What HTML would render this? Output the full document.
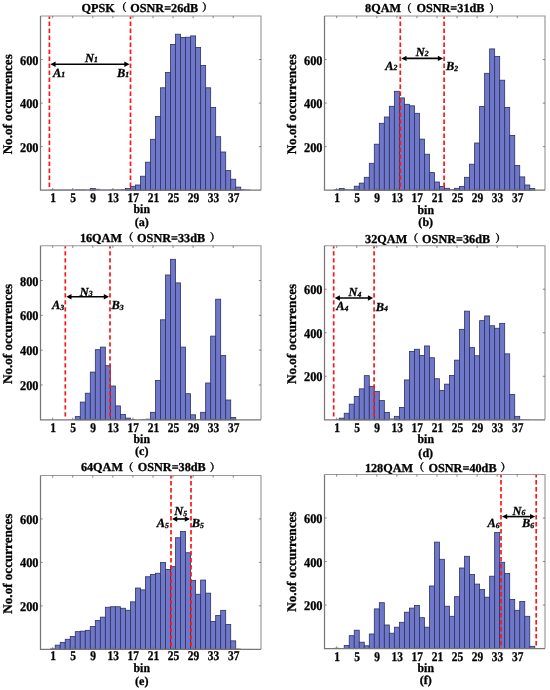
<!DOCTYPE html>
<html lang="en"><head><meta charset="utf-8"><title>Histograms of modulation formats</title>
<style>
html,body{margin:0;padding:0;background:#fff;}
body{width:550px;height:690px;overflow:hidden;}
svg{display:block;}
text{font-family:"Liberation Serif","Noto Serif CJK SC",serif;font-weight:bold;fill:#000;stroke:#000;stroke-width:0.3px;text-rendering:geometricPrecision;}
.t{font-size:12.1px;}
.k{font-size:13.3px;}
.y{font-size:13.3px;}
.b{font-size:12.8px;}
.c{font-size:12.1px;}
.l{font-size:13.1px;}
.p{font-family:"Liberation Serif","Noto Serif CJK SC",serif;font-weight:bold;font-size:10.5px;}
.i{font-style:italic;font-size:12.4px;}
.s{font-style:italic;font-size:7.8px;}
</style></head><body>
<svg width="550" height="690" viewBox="0 0 550 690">
<rect width="550" height="690" fill="#fff"/>
<g>
<rect x="50.18" y="189.5" width="5.01" height="0.7" fill="#4a4f96" opacity="0.75"/>
<rect x="55.2" y="189.5" width="5.01" height="0.7" fill="#4a4f96" opacity="0.75"/>
<rect x="60.21" y="189.5" width="5.01" height="0.7" fill="#4a4f96" opacity="0.75"/>
<rect x="65.23" y="189.5" width="5.01" height="0.7" fill="#4a4f96" opacity="0.75"/>
<rect x="70.24" y="189.5" width="5.01" height="0.7" fill="#4a4f96" opacity="0.75"/>
<rect x="75.26" y="189.2" width="5.01" height="1" fill="#4a4f96" opacity="0.75"/>
<rect x="80.27" y="189.2" width="5.01" height="1" fill="#4a4f96" opacity="0.75"/>
<rect x="85.29" y="189.5" width="5.01" height="0.7" fill="#4a4f96" opacity="0.75"/>
<rect x="90.3" y="188.5" width="5.01" height="1.7" fill="#6f78c8" stroke="#2c3163" stroke-width="0.8"/>
<rect x="95.32" y="188.8" width="5.01" height="1.4" fill="#4a4f96" opacity="0.75"/>
<rect x="100.33" y="189.5" width="5.01" height="0.7" fill="#4a4f96" opacity="0.75"/>
<rect x="105.35" y="189.5" width="5.01" height="0.7" fill="#4a4f96" opacity="0.75"/>
<rect x="110.36" y="189.2" width="5.01" height="1" fill="#4a4f96" opacity="0.75"/>
<rect x="115.38" y="189.2" width="5.01" height="1" fill="#4a4f96" opacity="0.75"/>
<rect x="120.39" y="189" width="5.01" height="1.2" fill="#4a4f96" opacity="0.75"/>
<rect x="125.41" y="188.5" width="5.01" height="1.7" fill="#6f78c8" stroke="#2c3163" stroke-width="0.8"/>
<rect x="130.42" y="186.3" width="5.01" height="3.9" fill="#6f78c8" stroke="#2c3163" stroke-width="0.8"/>
<rect x="135.44" y="185" width="5.01" height="5.2" fill="#6f78c8" stroke="#2c3163" stroke-width="0.8"/>
<rect x="140.45" y="176.2" width="5.01" height="14" fill="#6f78c8" stroke="#2c3163" stroke-width="0.8"/>
<rect x="145.47" y="162.2" width="5.01" height="28" fill="#6f78c8" stroke="#2c3163" stroke-width="0.8"/>
<rect x="150.48" y="139.3" width="5.01" height="50.9" fill="#6f78c8" stroke="#2c3163" stroke-width="0.8"/>
<rect x="155.5" y="116.4" width="5.01" height="73.8" fill="#6f78c8" stroke="#2c3163" stroke-width="0.8"/>
<rect x="160.51" y="87.8" width="5.01" height="102.4" fill="#6f78c8" stroke="#2c3163" stroke-width="0.8"/>
<rect x="165.53" y="72.5" width="5.01" height="117.7" fill="#6f78c8" stroke="#2c3163" stroke-width="0.8"/>
<rect x="170.54" y="44.4" width="5.01" height="145.8" fill="#6f78c8" stroke="#2c3163" stroke-width="0.8"/>
<rect x="175.56" y="34.2" width="5.01" height="156" fill="#6f78c8" stroke="#2c3163" stroke-width="0.8"/>
<rect x="180.57" y="37.5" width="5.01" height="152.7" fill="#6f78c8" stroke="#2c3163" stroke-width="0.8"/>
<rect x="185.59" y="37.2" width="5.01" height="153" fill="#6f78c8" stroke="#2c3163" stroke-width="0.8"/>
<rect x="190.6" y="35.9" width="5.01" height="154.3" fill="#6f78c8" stroke="#2c3163" stroke-width="0.8"/>
<rect x="195.62" y="47.5" width="5.01" height="142.7" fill="#6f78c8" stroke="#2c3163" stroke-width="0.8"/>
<rect x="200.63" y="65.4" width="5.01" height="124.8" fill="#6f78c8" stroke="#2c3163" stroke-width="0.8"/>
<rect x="205.65" y="87.8" width="5.01" height="102.4" fill="#6f78c8" stroke="#2c3163" stroke-width="0.8"/>
<rect x="210.66" y="107.4" width="5.01" height="82.8" fill="#6f78c8" stroke="#2c3163" stroke-width="0.8"/>
<rect x="215.68" y="136.7" width="5.01" height="53.5" fill="#6f78c8" stroke="#2c3163" stroke-width="0.8"/>
<rect x="220.69" y="152" width="5.01" height="38.2" fill="#6f78c8" stroke="#2c3163" stroke-width="0.8"/>
<rect x="225.71" y="170.6" width="5.01" height="19.6" fill="#6f78c8" stroke="#2c3163" stroke-width="0.8"/>
<rect x="230.72" y="179.2" width="5.01" height="11" fill="#6f78c8" stroke="#2c3163" stroke-width="0.8"/>
<rect x="235.74" y="187.1" width="5.01" height="3.1" fill="#6f78c8" stroke="#2c3163" stroke-width="0.8"/>
<rect x="240.75" y="189" width="5.01" height="1.2" fill="#4a4f96" opacity="0.75"/>
<rect x="245.77" y="189.5" width="5.01" height="0.7" fill="#4a4f96" opacity="0.75"/>
<path d="M40.5 16H261V190.2" fill="none" stroke="#989898" stroke-width="1.15"/>
<path d="M40.5 16V190.2H261" fill="none" stroke="#777777" stroke-width="1.25"/>
<path d="M52.69 190.2v-2.2M52.69 16v2.2M72.75 190.2v-2.2M72.75 16v2.2M92.81 190.2v-2.2M92.81 16v2.2M112.87 190.2v-2.2M112.87 16v2.2M132.93 190.2v-2.2M132.93 16v2.2M152.99 190.2v-2.2M152.99 16v2.2M173.05 190.2v-2.2M173.05 16v2.2M193.11 190.2v-2.2M193.11 16v2.2M213.17 190.2v-2.2M213.17 16v2.2M233.23 190.2v-2.2M233.23 16v2.2M40.5 146.65h2.2M261 146.65h-2.2M40.5 103.1h2.2M261 103.1h-2.2M40.5 59.55h2.2M261 59.55h-2.2" stroke="#6a6a6a" stroke-width="0.8" fill="none"/>
<text class="k" transform="translate(53.09 201.8) scale(0.86 1)" text-anchor="middle">1</text>
<text class="k" transform="translate(73.15 201.8) scale(0.86 1)" text-anchor="middle">5</text>
<text class="k" transform="translate(93.21 201.8) scale(0.86 1)" text-anchor="middle">9</text>
<text class="k" transform="translate(113.27 201.8) scale(0.86 1)" text-anchor="middle">13</text>
<text class="k" transform="translate(133.33 201.8) scale(0.86 1)" text-anchor="middle">17</text>
<text class="k" transform="translate(153.39 201.8) scale(0.86 1)" text-anchor="middle">21</text>
<text class="k" transform="translate(173.45 201.8) scale(0.86 1)" text-anchor="middle">25</text>
<text class="k" transform="translate(193.51 201.8) scale(0.86 1)" text-anchor="middle">29</text>
<text class="k" transform="translate(213.57 201.8) scale(0.86 1)" text-anchor="middle">33</text>
<text class="k" transform="translate(233.63 201.8) scale(0.86 1)" text-anchor="middle">37</text>
<text class="y" transform="translate(38.5 151.7) scale(0.93 1)" text-anchor="end">200</text>
<text class="y" transform="translate(38.5 108.15) scale(0.93 1)" text-anchor="end">400</text>
<text class="y" transform="translate(38.5 64.6) scale(0.93 1)" text-anchor="end">600</text>
<text class="b" transform="translate(141.75 213.1) scale(0.92 1)" text-anchor="middle">bin</text>
<text class="c" transform="translate(141.75 225.8) scale(1 1)" text-anchor="middle">(a)</text>
<text class="l" transform="translate(12.4 104.3) rotate(-90)" text-anchor="middle">No.of occurrences</text>
<text class="t" transform="translate(81.6 11.9) scale(1.01 1)">QPSK</text>
<text class="p" x="121.4" y="11.3" text-anchor="middle">（</text>
<text class="t" transform="translate(130.2 11.9) scale(1.01 1)">OSNR=26dB</text>
<text class="p" x="207.3" y="11.3" text-anchor="middle">）</text>
<path d="M49.4 16.5V189.7" stroke="#fa1818" stroke-width="1.7" stroke-dasharray="4.4 2.6" stroke-dashoffset="2" fill="none"/>
<path d="M130.5 16.5V189.7" stroke="#fa1818" stroke-width="1.7" stroke-dasharray="4.4 2.6" stroke-dashoffset="2" fill="none"/>
<path d="M53.4 64.3H126.5" stroke="#000" stroke-width="1.6" fill="none"/>
<path d="M50.4 64.3l5.2 -2.7v5.4zM129.5 64.3l-5.2 -2.7v5.4z" fill="#000"/>
<text class="i" x="53" y="76.5">A<tspan class="s" dy="0.5">1</tspan></text>
<text class="i" x="116.9" y="76.5">B<tspan class="s" dy="0.5">1</tspan></text>
<text class="i" x="85" y="61.7">N<tspan class="s" dy="0.5">1</tspan></text>
</g>
<g>
<rect x="334.18" y="189" width="5.01" height="1.2" fill="#4a4f96" opacity="0.75"/>
<rect x="339.2" y="188.5" width="5.01" height="1.7" fill="#6f78c8" stroke="#2c3163" stroke-width="0.8"/>
<rect x="344.21" y="189" width="5.01" height="1.2" fill="#4a4f96" opacity="0.75"/>
<rect x="349.23" y="189" width="5.01" height="1.2" fill="#4a4f96" opacity="0.75"/>
<rect x="354.24" y="186.2" width="5.01" height="4" fill="#6f78c8" stroke="#2c3163" stroke-width="0.8"/>
<rect x="359.26" y="183.1" width="5.01" height="7.1" fill="#6f78c8" stroke="#2c3163" stroke-width="0.8"/>
<rect x="364.27" y="177.3" width="5.01" height="12.9" fill="#6f78c8" stroke="#2c3163" stroke-width="0.8"/>
<rect x="369.29" y="163.3" width="5.01" height="26.9" fill="#6f78c8" stroke="#2c3163" stroke-width="0.8"/>
<rect x="374.3" y="144.2" width="5.01" height="46" fill="#6f78c8" stroke="#2c3163" stroke-width="0.8"/>
<rect x="379.32" y="123.3" width="5.01" height="66.9" fill="#6f78c8" stroke="#2c3163" stroke-width="0.8"/>
<rect x="384.33" y="117" width="5.01" height="73.2" fill="#6f78c8" stroke="#2c3163" stroke-width="0.8"/>
<rect x="389.35" y="106.3" width="5.01" height="83.9" fill="#6f78c8" stroke="#2c3163" stroke-width="0.8"/>
<rect x="394.36" y="91.3" width="5.01" height="98.9" fill="#6f78c8" stroke="#2c3163" stroke-width="0.8"/>
<rect x="399.38" y="97.9" width="5.01" height="92.3" fill="#6f78c8" stroke="#2c3163" stroke-width="0.8"/>
<rect x="404.39" y="104.3" width="5.01" height="85.9" fill="#6f78c8" stroke="#2c3163" stroke-width="0.8"/>
<rect x="409.41" y="105.8" width="5.01" height="84.4" fill="#6f78c8" stroke="#2c3163" stroke-width="0.8"/>
<rect x="414.42" y="113.3" width="5.01" height="76.9" fill="#6f78c8" stroke="#2c3163" stroke-width="0.8"/>
<rect x="419.44" y="139.1" width="5.01" height="51.1" fill="#6f78c8" stroke="#2c3163" stroke-width="0.8"/>
<rect x="424.45" y="154.2" width="5.01" height="36" fill="#6f78c8" stroke="#2c3163" stroke-width="0.8"/>
<rect x="429.47" y="172.6" width="5.01" height="17.6" fill="#6f78c8" stroke="#2c3163" stroke-width="0.8"/>
<rect x="434.48" y="182" width="5.01" height="8.2" fill="#6f78c8" stroke="#2c3163" stroke-width="0.8"/>
<rect x="439.5" y="186.4" width="5.01" height="3.8" fill="#6f78c8" stroke="#2c3163" stroke-width="0.8"/>
<rect x="444.51" y="188.3" width="5.01" height="1.9" fill="#6f78c8" stroke="#2c3163" stroke-width="0.8"/>
<rect x="449.53" y="189" width="5.01" height="1.2" fill="#4a4f96" opacity="0.75"/>
<rect x="454.54" y="188.3" width="5.01" height="1.9" fill="#6f78c8" stroke="#2c3163" stroke-width="0.8"/>
<rect x="459.56" y="186.4" width="5.01" height="3.8" fill="#6f78c8" stroke="#2c3163" stroke-width="0.8"/>
<rect x="464.57" y="177.3" width="5.01" height="12.9" fill="#6f78c8" stroke="#2c3163" stroke-width="0.8"/>
<rect x="469.59" y="164.2" width="5.01" height="26" fill="#6f78c8" stroke="#2c3163" stroke-width="0.8"/>
<rect x="474.6" y="143" width="5.01" height="47.2" fill="#6f78c8" stroke="#2c3163" stroke-width="0.8"/>
<rect x="479.62" y="106.4" width="5.01" height="83.8" fill="#6f78c8" stroke="#2c3163" stroke-width="0.8"/>
<rect x="484.63" y="73.3" width="5.01" height="116.9" fill="#6f78c8" stroke="#2c3163" stroke-width="0.8"/>
<rect x="489.65" y="48.9" width="5.01" height="141.3" fill="#6f78c8" stroke="#2c3163" stroke-width="0.8"/>
<rect x="494.66" y="56.5" width="5.01" height="133.7" fill="#6f78c8" stroke="#2c3163" stroke-width="0.8"/>
<rect x="499.68" y="80.2" width="5.01" height="110" fill="#6f78c8" stroke="#2c3163" stroke-width="0.8"/>
<rect x="504.69" y="107.4" width="5.01" height="82.8" fill="#6f78c8" stroke="#2c3163" stroke-width="0.8"/>
<rect x="509.71" y="135.4" width="5.01" height="54.8" fill="#6f78c8" stroke="#2c3163" stroke-width="0.8"/>
<rect x="514.72" y="165.5" width="5.01" height="24.7" fill="#6f78c8" stroke="#2c3163" stroke-width="0.8"/>
<rect x="519.74" y="176.9" width="5.01" height="13.3" fill="#6f78c8" stroke="#2c3163" stroke-width="0.8"/>
<rect x="524.75" y="185" width="5.01" height="5.2" fill="#6f78c8" stroke="#2c3163" stroke-width="0.8"/>
<rect x="529.77" y="188.4" width="5.01" height="1.8" fill="#6f78c8" stroke="#2c3163" stroke-width="0.8"/>
<path d="M324.5 16H545V190.2" fill="none" stroke="#989898" stroke-width="1.15"/>
<path d="M324.5 16V190.2H545" fill="none" stroke="#777777" stroke-width="1.25"/>
<path d="M336.69 190.2v-2.2M336.69 16v2.2M356.75 190.2v-2.2M356.75 16v2.2M376.81 190.2v-2.2M376.81 16v2.2M396.87 190.2v-2.2M396.87 16v2.2M416.93 190.2v-2.2M416.93 16v2.2M436.99 190.2v-2.2M436.99 16v2.2M457.05 190.2v-2.2M457.05 16v2.2M477.11 190.2v-2.2M477.11 16v2.2M497.17 190.2v-2.2M497.17 16v2.2M517.23 190.2v-2.2M517.23 16v2.2M324.5 146.65h2.2M545 146.65h-2.2M324.5 103.1h2.2M545 103.1h-2.2M324.5 59.55h2.2M545 59.55h-2.2" stroke="#6a6a6a" stroke-width="0.8" fill="none"/>
<text class="k" transform="translate(337.09 202) scale(0.86 1)" text-anchor="middle">1</text>
<text class="k" transform="translate(357.15 202) scale(0.86 1)" text-anchor="middle">5</text>
<text class="k" transform="translate(377.21 202) scale(0.86 1)" text-anchor="middle">9</text>
<text class="k" transform="translate(397.27 202) scale(0.86 1)" text-anchor="middle">13</text>
<text class="k" transform="translate(417.33 202) scale(0.86 1)" text-anchor="middle">17</text>
<text class="k" transform="translate(437.39 202) scale(0.86 1)" text-anchor="middle">21</text>
<text class="k" transform="translate(457.45 202) scale(0.86 1)" text-anchor="middle">25</text>
<text class="k" transform="translate(477.51 202) scale(0.86 1)" text-anchor="middle">29</text>
<text class="k" transform="translate(497.57 202) scale(0.86 1)" text-anchor="middle">33</text>
<text class="k" transform="translate(517.63 202) scale(0.86 1)" text-anchor="middle">37</text>
<text class="y" transform="translate(322.5 151.7) scale(0.93 1)" text-anchor="end">200</text>
<text class="y" transform="translate(322.5 108.15) scale(0.93 1)" text-anchor="end">400</text>
<text class="y" transform="translate(322.5 64.6) scale(0.93 1)" text-anchor="end">600</text>
<text class="b" transform="translate(425.75 213.7) scale(0.92 1)" text-anchor="middle">bin</text>
<text class="c" transform="translate(425.75 226.3) scale(1 1)" text-anchor="middle">(b)</text>
<text class="l" transform="translate(296.4 104.3) rotate(-90)" text-anchor="middle">No.of occurrences</text>
<text class="t" transform="translate(365.1 12.4) scale(1.01 1)">8QAM</text>
<text class="p" x="406.4" y="11.8" text-anchor="middle">（</text>
<text class="t" transform="translate(416.4 12.4) scale(1.01 1)">OSNR=31dB</text>
<text class="p" x="494.6" y="11.8" text-anchor="middle">）</text>
<path d="M400.3 16.5V189.7" stroke="#fa1818" stroke-width="1.7" stroke-dasharray="4.4 2.6" stroke-dashoffset="2" fill="none"/>
<path d="M444.1 16.5V189.7" stroke="#fa1818" stroke-width="1.7" stroke-dasharray="4.4 2.6" stroke-dashoffset="2" fill="none"/>
<path d="M404.3 58.4H440.1" stroke="#000" stroke-width="1.6" fill="none"/>
<path d="M401.3 58.4l5.2 -2.7v5.4zM443.1 58.4l-5.2 -2.7v5.4z" fill="#000"/>
<text class="i" x="385.3" y="69.8">A<tspan class="s" dy="0.5">2</tspan></text>
<text class="i" x="446" y="70.1">B<tspan class="s" dy="0.5">2</tspan></text>
<text class="i" x="415.8" y="55.8">N<tspan class="s" dy="0.5">2</tspan></text>
</g>
<g>
<rect x="70.24" y="419.4" width="5.01" height="0.4" fill="#4a4f96" opacity="0.75"/>
<rect x="75.26" y="416.6" width="5.01" height="3.2" fill="#6f78c8" stroke="#2c3163" stroke-width="0.8"/>
<rect x="80.27" y="402.1" width="5.01" height="17.7" fill="#6f78c8" stroke="#2c3163" stroke-width="0.8"/>
<rect x="85.29" y="393.2" width="5.01" height="26.6" fill="#6f78c8" stroke="#2c3163" stroke-width="0.8"/>
<rect x="90.3" y="372.1" width="5.01" height="47.7" fill="#6f78c8" stroke="#2c3163" stroke-width="0.8"/>
<rect x="95.32" y="349.7" width="5.01" height="70.1" fill="#6f78c8" stroke="#2c3163" stroke-width="0.8"/>
<rect x="100.33" y="347.1" width="5.01" height="72.7" fill="#6f78c8" stroke="#2c3163" stroke-width="0.8"/>
<rect x="105.35" y="365.7" width="5.01" height="54.1" fill="#6f78c8" stroke="#2c3163" stroke-width="0.8"/>
<rect x="110.36" y="386" width="5.01" height="33.8" fill="#6f78c8" stroke="#2c3163" stroke-width="0.8"/>
<rect x="115.38" y="405.9" width="5.01" height="13.9" fill="#6f78c8" stroke="#2c3163" stroke-width="0.8"/>
<rect x="120.39" y="414.5" width="5.01" height="5.3" fill="#6f78c8" stroke="#2c3163" stroke-width="0.8"/>
<rect x="125.41" y="418.1" width="5.01" height="1.7" fill="#6f78c8" stroke="#2c3163" stroke-width="0.8"/>
<rect x="130.42" y="419.1" width="5.01" height="0.7" fill="#4a4f96" opacity="0.75"/>
<rect x="140.45" y="419.1" width="5.01" height="0.7" fill="#4a4f96" opacity="0.75"/>
<rect x="145.47" y="418.6" width="5.01" height="1.2" fill="#4a4f96" opacity="0.75"/>
<rect x="150.48" y="412.3" width="5.01" height="7.5" fill="#6f78c8" stroke="#2c3163" stroke-width="0.8"/>
<rect x="155.5" y="380.4" width="5.01" height="39.4" fill="#6f78c8" stroke="#2c3163" stroke-width="0.8"/>
<rect x="160.51" y="319.8" width="5.01" height="100" fill="#6f78c8" stroke="#2c3163" stroke-width="0.8"/>
<rect x="165.53" y="275" width="5.01" height="144.8" fill="#6f78c8" stroke="#2c3163" stroke-width="0.8"/>
<rect x="170.54" y="259.3" width="5.01" height="160.5" fill="#6f78c8" stroke="#2c3163" stroke-width="0.8"/>
<rect x="175.56" y="282.9" width="5.01" height="136.9" fill="#6f78c8" stroke="#2c3163" stroke-width="0.8"/>
<rect x="180.57" y="347.1" width="5.01" height="72.7" fill="#6f78c8" stroke="#2c3163" stroke-width="0.8"/>
<rect x="185.59" y="393.7" width="5.01" height="26.1" fill="#6f78c8" stroke="#2c3163" stroke-width="0.8"/>
<rect x="190.6" y="414.8" width="5.01" height="5" fill="#6f78c8" stroke="#2c3163" stroke-width="0.8"/>
<rect x="195.62" y="419.1" width="5.01" height="0.7" fill="#4a4f96" opacity="0.75"/>
<rect x="200.63" y="412.3" width="5.01" height="7.5" fill="#6f78c8" stroke="#2c3163" stroke-width="0.8"/>
<rect x="205.65" y="383" width="5.01" height="36.8" fill="#6f78c8" stroke="#2c3163" stroke-width="0.8"/>
<rect x="210.66" y="336.1" width="5.01" height="83.7" fill="#6f78c8" stroke="#2c3163" stroke-width="0.8"/>
<rect x="215.68" y="299.2" width="5.01" height="120.6" fill="#6f78c8" stroke="#2c3163" stroke-width="0.8"/>
<rect x="220.69" y="355.5" width="5.01" height="64.3" fill="#6f78c8" stroke="#2c3163" stroke-width="0.8"/>
<rect x="225.71" y="400" width="5.01" height="19.8" fill="#6f78c8" stroke="#2c3163" stroke-width="0.8"/>
<rect x="230.72" y="417.4" width="5.01" height="2.4" fill="#6f78c8" stroke="#2c3163" stroke-width="0.8"/>
<path d="M40.5 245.7H261V419.8" fill="none" stroke="#989898" stroke-width="1.15"/>
<path d="M40.5 245.7V419.8H261" fill="none" stroke="#777777" stroke-width="1.25"/>
<path d="M52.69 419.8v-2.2M52.69 245.7v2.2M72.75 419.8v-2.2M72.75 245.7v2.2M92.81 419.8v-2.2M92.81 245.7v2.2M112.87 419.8v-2.2M112.87 245.7v2.2M132.93 419.8v-2.2M132.93 245.7v2.2M152.99 419.8v-2.2M152.99 245.7v2.2M173.05 419.8v-2.2M173.05 245.7v2.2M193.11 419.8v-2.2M193.11 245.7v2.2M213.17 419.8v-2.2M213.17 245.7v2.2M233.23 419.8v-2.2M233.23 245.7v2.2M40.5 384.98h2.2M261 384.98h-2.2M40.5 350.16h2.2M261 350.16h-2.2M40.5 315.34h2.2M261 315.34h-2.2M40.5 280.52h2.2M261 280.52h-2.2" stroke="#6a6a6a" stroke-width="0.8" fill="none"/>
<text class="k" transform="translate(53.09 431.8) scale(0.86 1)" text-anchor="middle">1</text>
<text class="k" transform="translate(73.15 431.8) scale(0.86 1)" text-anchor="middle">5</text>
<text class="k" transform="translate(93.21 431.8) scale(0.86 1)" text-anchor="middle">9</text>
<text class="k" transform="translate(113.27 431.8) scale(0.86 1)" text-anchor="middle">13</text>
<text class="k" transform="translate(133.33 431.8) scale(0.86 1)" text-anchor="middle">17</text>
<text class="k" transform="translate(153.39 431.8) scale(0.86 1)" text-anchor="middle">21</text>
<text class="k" transform="translate(173.45 431.8) scale(0.86 1)" text-anchor="middle">25</text>
<text class="k" transform="translate(193.51 431.8) scale(0.86 1)" text-anchor="middle">29</text>
<text class="k" transform="translate(213.57 431.8) scale(0.86 1)" text-anchor="middle">33</text>
<text class="k" transform="translate(233.63 431.8) scale(0.86 1)" text-anchor="middle">37</text>
<text class="y" transform="translate(38.5 390.03) scale(0.93 1)" text-anchor="end">200</text>
<text class="y" transform="translate(38.5 355.21) scale(0.93 1)" text-anchor="end">400</text>
<text class="y" transform="translate(38.5 320.39) scale(0.93 1)" text-anchor="end">600</text>
<text class="y" transform="translate(38.5 285.57) scale(0.93 1)" text-anchor="end">800</text>
<text class="b" transform="translate(141.75 442.7) scale(0.92 1)" text-anchor="middle">bin</text>
<text class="c" transform="translate(141.75 455.4) scale(1 1)" text-anchor="middle">(c)</text>
<text class="l" transform="translate(12.4 333.95) rotate(-90)" text-anchor="middle">No.of occurrences</text>
<text class="t" transform="translate(79.9 241.9) scale(1.01 1)">16QAM</text>
<text class="p" x="128.3" y="241.3" text-anchor="middle">（</text>
<text class="t" transform="translate(137.1 241.9) scale(1.01 1)">OSNR=33dB</text>
<text class="p" x="214.9" y="241.3" text-anchor="middle">）</text>
<path d="M65.3 246.2V419.3" stroke="#fa1818" stroke-width="1.7" stroke-dasharray="4.4 2.6" stroke-dashoffset="2" fill="none"/>
<path d="M110 246.2V419.3" stroke="#fa1818" stroke-width="1.7" stroke-dasharray="4.4 2.6" stroke-dashoffset="2" fill="none"/>
<path d="M69.3 296.7H106" stroke="#000" stroke-width="1.6" fill="none"/>
<path d="M66.3 296.7l5.2 -2.7v5.4zM109 296.7l-5.2 -2.7v5.4z" fill="#000"/>
<text class="i" x="52" y="309">A<tspan class="s" dy="0.5">3</tspan></text>
<text class="i" x="111.4" y="309">B<tspan class="s" dy="0.5">3</tspan></text>
<text class="i" x="79.7" y="295.5">N<tspan class="s" dy="0.5">3</tspan></text>
</g>
<g>
<rect x="334.18" y="419.35" width="5.01" height="0.45" fill="#4a4f96" opacity="0.75"/>
<rect x="339.2" y="418.15" width="5.01" height="1.65" fill="#6f78c8" stroke="#2c3163" stroke-width="0.8"/>
<rect x="344.21" y="413.25" width="5.01" height="6.55" fill="#6f78c8" stroke="#2c3163" stroke-width="0.8"/>
<rect x="349.23" y="404.15" width="5.01" height="15.65" fill="#6f78c8" stroke="#2c3163" stroke-width="0.8"/>
<rect x="354.24" y="396.45" width="5.01" height="23.35" fill="#6f78c8" stroke="#2c3163" stroke-width="0.8"/>
<rect x="359.26" y="388.85" width="5.01" height="30.95" fill="#6f78c8" stroke="#2c3163" stroke-width="0.8"/>
<rect x="364.27" y="375.65" width="5.01" height="44.15" fill="#6f78c8" stroke="#2c3163" stroke-width="0.8"/>
<rect x="369.29" y="386.35" width="5.01" height="33.45" fill="#6f78c8" stroke="#2c3163" stroke-width="0.8"/>
<rect x="374.3" y="391.35" width="5.01" height="28.45" fill="#6f78c8" stroke="#2c3163" stroke-width="0.8"/>
<rect x="379.32" y="400.55" width="5.01" height="19.25" fill="#6f78c8" stroke="#2c3163" stroke-width="0.8"/>
<rect x="384.33" y="412.55" width="5.01" height="7.25" fill="#6f78c8" stroke="#2c3163" stroke-width="0.8"/>
<rect x="389.35" y="418.35" width="5.01" height="1.45" fill="#4a4f96" opacity="0.75"/>
<rect x="394.36" y="416.35" width="5.01" height="3.45" fill="#6f78c8" stroke="#2c3163" stroke-width="0.8"/>
<rect x="399.38" y="407.45" width="5.01" height="12.35" fill="#6f78c8" stroke="#2c3163" stroke-width="0.8"/>
<rect x="404.39" y="379.95" width="5.01" height="39.85" fill="#6f78c8" stroke="#2c3163" stroke-width="0.8"/>
<rect x="409.41" y="351.55" width="5.01" height="68.25" fill="#6f78c8" stroke="#2c3163" stroke-width="0.8"/>
<rect x="414.42" y="349.25" width="5.01" height="70.55" fill="#6f78c8" stroke="#2c3163" stroke-width="0.8"/>
<rect x="419.44" y="355.55" width="5.01" height="64.25" fill="#6f78c8" stroke="#2c3163" stroke-width="0.8"/>
<rect x="424.45" y="345.95" width="5.01" height="73.85" fill="#6f78c8" stroke="#2c3163" stroke-width="0.8"/>
<rect x="429.47" y="357.75" width="5.01" height="62.05" fill="#6f78c8" stroke="#2c3163" stroke-width="0.8"/>
<rect x="434.48" y="378.75" width="5.01" height="41.05" fill="#6f78c8" stroke="#2c3163" stroke-width="0.8"/>
<rect x="439.5" y="390.45" width="5.01" height="29.35" fill="#6f78c8" stroke="#2c3163" stroke-width="0.8"/>
<rect x="444.51" y="384.15" width="5.01" height="35.65" fill="#6f78c8" stroke="#2c3163" stroke-width="0.8"/>
<rect x="449.53" y="375.45" width="5.01" height="44.35" fill="#6f78c8" stroke="#2c3163" stroke-width="0.8"/>
<rect x="454.54" y="360.15" width="5.01" height="59.65" fill="#6f78c8" stroke="#2c3163" stroke-width="0.8"/>
<rect x="459.56" y="329.35" width="5.01" height="90.45" fill="#6f78c8" stroke="#2c3163" stroke-width="0.8"/>
<rect x="464.57" y="311.15" width="5.01" height="108.65" fill="#6f78c8" stroke="#2c3163" stroke-width="0.8"/>
<rect x="469.59" y="347.65" width="5.01" height="72.15" fill="#6f78c8" stroke="#2c3163" stroke-width="0.8"/>
<rect x="474.6" y="355.75" width="5.01" height="64.05" fill="#6f78c8" stroke="#2c3163" stroke-width="0.8"/>
<rect x="479.62" y="320.65" width="5.01" height="99.15" fill="#6f78c8" stroke="#2c3163" stroke-width="0.8"/>
<rect x="484.63" y="315.95" width="5.01" height="103.85" fill="#6f78c8" stroke="#2c3163" stroke-width="0.8"/>
<rect x="489.65" y="325.75" width="5.01" height="94.05" fill="#6f78c8" stroke="#2c3163" stroke-width="0.8"/>
<rect x="494.66" y="328.25" width="5.01" height="91.55" fill="#6f78c8" stroke="#2c3163" stroke-width="0.8"/>
<rect x="499.68" y="323.35" width="5.01" height="96.45" fill="#6f78c8" stroke="#2c3163" stroke-width="0.8"/>
<rect x="504.69" y="353.85" width="5.01" height="65.95" fill="#6f78c8" stroke="#2c3163" stroke-width="0.8"/>
<rect x="509.71" y="394.55" width="5.01" height="25.25" fill="#6f78c8" stroke="#2c3163" stroke-width="0.8"/>
<rect x="514.72" y="416.35" width="5.01" height="3.45" fill="#6f78c8" stroke="#2c3163" stroke-width="0.8"/>
<rect x="519.74" y="419.15" width="5.01" height="0.65" fill="#4a4f96" opacity="0.75"/>
<rect x="524.75" y="419.35" width="5.01" height="0.45" fill="#4a4f96" opacity="0.75"/>
<path d="M324.5 245.7H545V419.8" fill="none" stroke="#989898" stroke-width="1.15"/>
<path d="M324.5 245.7V419.8H545" fill="none" stroke="#777777" stroke-width="1.25"/>
<path d="M336.69 419.8v-2.2M336.69 245.7v2.2M356.75 419.8v-2.2M356.75 245.7v2.2M376.81 419.8v-2.2M376.81 245.7v2.2M396.87 419.8v-2.2M396.87 245.7v2.2M416.93 419.8v-2.2M416.93 245.7v2.2M436.99 419.8v-2.2M436.99 245.7v2.2M457.05 419.8v-2.2M457.05 245.7v2.2M477.11 419.8v-2.2M477.11 245.7v2.2M497.17 419.8v-2.2M497.17 245.7v2.2M517.23 419.8v-2.2M517.23 245.7v2.2M324.5 376.27h2.2M545 376.27h-2.2M324.5 332.75h2.2M545 332.75h-2.2M324.5 289.23h2.2M545 289.23h-2.2" stroke="#6a6a6a" stroke-width="0.8" fill="none"/>
<text class="k" transform="translate(337.09 431.8) scale(0.86 1)" text-anchor="middle">1</text>
<text class="k" transform="translate(357.15 431.8) scale(0.86 1)" text-anchor="middle">5</text>
<text class="k" transform="translate(377.21 431.8) scale(0.86 1)" text-anchor="middle">9</text>
<text class="k" transform="translate(397.27 431.8) scale(0.86 1)" text-anchor="middle">13</text>
<text class="k" transform="translate(417.33 431.8) scale(0.86 1)" text-anchor="middle">17</text>
<text class="k" transform="translate(437.39 431.8) scale(0.86 1)" text-anchor="middle">21</text>
<text class="k" transform="translate(457.45 431.8) scale(0.86 1)" text-anchor="middle">25</text>
<text class="k" transform="translate(477.51 431.8) scale(0.86 1)" text-anchor="middle">29</text>
<text class="k" transform="translate(497.57 431.8) scale(0.86 1)" text-anchor="middle">33</text>
<text class="k" transform="translate(517.63 431.8) scale(0.86 1)" text-anchor="middle">37</text>
<text class="y" transform="translate(322.5 381.32) scale(0.93 1)" text-anchor="end">200</text>
<text class="y" transform="translate(322.5 337.8) scale(0.93 1)" text-anchor="end">400</text>
<text class="y" transform="translate(322.5 294.28) scale(0.93 1)" text-anchor="end">600</text>
<text class="b" transform="translate(425.75 442.7) scale(0.92 1)" text-anchor="middle">bin</text>
<text class="c" transform="translate(425.75 456.7) scale(1 1)" text-anchor="middle">(d)</text>
<text class="l" transform="translate(296.4 333.95) rotate(-90)" text-anchor="middle">No.of occurrences</text>
<text class="t" transform="translate(365.1 242.9) scale(1.01 1)">32QAM</text>
<text class="p" x="413.1" y="242.3" text-anchor="middle">（</text>
<text class="t" transform="translate(422.1 242.9) scale(1.01 1)">OSNR=36dB</text>
<text class="p" x="500.6" y="242.3" text-anchor="middle">）</text>
<path d="M333.7 246.2V419.3" stroke="#fa1818" stroke-width="1.7" stroke-dasharray="4.4 2.6" stroke-dashoffset="2" fill="none"/>
<path d="M374.1 246.2V419.3" stroke="#fa1818" stroke-width="1.7" stroke-dasharray="4.4 2.6" stroke-dashoffset="2" fill="none"/>
<path d="M337.7 298H370.1" stroke="#000" stroke-width="1.6" fill="none"/>
<path d="M334.7 298l5.2 -2.7v5.4zM373.1 298l-5.2 -2.7v5.4z" fill="#000"/>
<text class="i" x="336.3" y="310.4">A<tspan class="s" dy="0.5">4</tspan></text>
<text class="i" x="375.8" y="310.8">B<tspan class="s" dy="0.5">4</tspan></text>
<text class="i" x="348.5" y="296">N<tspan class="s" dy="0.5">4</tspan></text>
</g>
<g>
<rect x="50.18" y="648.15" width="5.01" height="1.15" fill="#4a4f96" opacity="0.75"/>
<rect x="55.2" y="645.15" width="5.01" height="4.15" fill="#6f78c8" stroke="#2c3163" stroke-width="0.8"/>
<rect x="60.21" y="642.35" width="5.01" height="6.95" fill="#6f78c8" stroke="#2c3163" stroke-width="0.8"/>
<rect x="65.23" y="639.25" width="5.01" height="10.05" fill="#6f78c8" stroke="#2c3163" stroke-width="0.8"/>
<rect x="70.24" y="636.45" width="5.01" height="12.85" fill="#6f78c8" stroke="#2c3163" stroke-width="0.8"/>
<rect x="75.26" y="631.65" width="5.01" height="17.65" fill="#6f78c8" stroke="#2c3163" stroke-width="0.8"/>
<rect x="80.27" y="631.15" width="5.01" height="18.15" fill="#6f78c8" stroke="#2c3163" stroke-width="0.8"/>
<rect x="85.29" y="630.35" width="5.01" height="18.95" fill="#6f78c8" stroke="#2c3163" stroke-width="0.8"/>
<rect x="90.3" y="626.55" width="5.01" height="22.75" fill="#6f78c8" stroke="#2c3163" stroke-width="0.8"/>
<rect x="95.32" y="620.45" width="5.01" height="28.85" fill="#6f78c8" stroke="#2c3163" stroke-width="0.8"/>
<rect x="100.33" y="617.15" width="5.01" height="32.15" fill="#6f78c8" stroke="#2c3163" stroke-width="0.8"/>
<rect x="105.35" y="607.25" width="5.01" height="42.05" fill="#6f78c8" stroke="#2c3163" stroke-width="0.8"/>
<rect x="110.36" y="606.75" width="5.01" height="42.55" fill="#6f78c8" stroke="#2c3163" stroke-width="0.8"/>
<rect x="115.38" y="606.75" width="5.01" height="42.55" fill="#6f78c8" stroke="#2c3163" stroke-width="0.8"/>
<rect x="120.39" y="608.25" width="5.01" height="41.05" fill="#6f78c8" stroke="#2c3163" stroke-width="0.8"/>
<rect x="125.41" y="610.25" width="5.01" height="39.05" fill="#6f78c8" stroke="#2c3163" stroke-width="0.8"/>
<rect x="130.42" y="601.85" width="5.01" height="47.45" fill="#6f78c8" stroke="#2c3163" stroke-width="0.8"/>
<rect x="135.44" y="588.05" width="5.01" height="61.25" fill="#6f78c8" stroke="#2c3163" stroke-width="0.8"/>
<rect x="140.45" y="589.85" width="5.01" height="59.45" fill="#6f78c8" stroke="#2c3163" stroke-width="0.8"/>
<rect x="145.47" y="576.75" width="5.01" height="72.55" fill="#6f78c8" stroke="#2c3163" stroke-width="0.8"/>
<rect x="150.48" y="574.55" width="5.01" height="74.75" fill="#6f78c8" stroke="#2c3163" stroke-width="0.8"/>
<rect x="155.5" y="573.25" width="5.01" height="76.05" fill="#6f78c8" stroke="#2c3163" stroke-width="0.8"/>
<rect x="160.51" y="562.55" width="5.01" height="86.75" fill="#6f78c8" stroke="#2c3163" stroke-width="0.8"/>
<rect x="165.53" y="569.45" width="5.01" height="79.85" fill="#6f78c8" stroke="#2c3163" stroke-width="0.8"/>
<rect x="170.54" y="566.65" width="5.01" height="82.65" fill="#6f78c8" stroke="#2c3163" stroke-width="0.8"/>
<rect x="175.56" y="537.75" width="5.01" height="111.55" fill="#6f78c8" stroke="#2c3163" stroke-width="0.8"/>
<rect x="180.57" y="531.45" width="5.01" height="117.85" fill="#6f78c8" stroke="#2c3163" stroke-width="0.8"/>
<rect x="185.59" y="552.75" width="5.01" height="96.55" fill="#6f78c8" stroke="#2c3163" stroke-width="0.8"/>
<rect x="190.6" y="580.35" width="5.01" height="68.95" fill="#6f78c8" stroke="#2c3163" stroke-width="0.8"/>
<rect x="195.62" y="594.25" width="5.01" height="55.05" fill="#6f78c8" stroke="#2c3163" stroke-width="0.8"/>
<rect x="200.63" y="580.05" width="5.01" height="69.25" fill="#6f78c8" stroke="#2c3163" stroke-width="0.8"/>
<rect x="205.65" y="593.15" width="5.01" height="56.15" fill="#6f78c8" stroke="#2c3163" stroke-width="0.8"/>
<rect x="210.66" y="621.45" width="5.01" height="27.85" fill="#6f78c8" stroke="#2c3163" stroke-width="0.8"/>
<rect x="215.68" y="615.45" width="5.01" height="33.85" fill="#6f78c8" stroke="#2c3163" stroke-width="0.8"/>
<rect x="220.69" y="610.35" width="5.01" height="38.95" fill="#6f78c8" stroke="#2c3163" stroke-width="0.8"/>
<rect x="225.71" y="624.45" width="5.01" height="24.85" fill="#6f78c8" stroke="#2c3163" stroke-width="0.8"/>
<rect x="230.72" y="640.85" width="5.01" height="8.45" fill="#6f78c8" stroke="#2c3163" stroke-width="0.8"/>
<rect x="235.74" y="648.45" width="5.01" height="0.85" fill="#4a4f96" opacity="0.75"/>
<rect x="240.75" y="648.95" width="5.01" height="0.35" fill="#4a4f96" opacity="0.75"/>
<rect x="245.77" y="648.95" width="5.01" height="0.35" fill="#4a4f96" opacity="0.75"/>
<path d="M40.5 475.5H261V649.3" fill="none" stroke="#989898" stroke-width="1.15"/>
<path d="M40.5 475.5V649.3H261" fill="none" stroke="#777777" stroke-width="1.25"/>
<path d="M52.69 649.3v-2.2M52.69 475.5v2.2M72.75 649.3v-2.2M72.75 475.5v2.2M92.81 649.3v-2.2M92.81 475.5v2.2M112.87 649.3v-2.2M112.87 475.5v2.2M132.93 649.3v-2.2M132.93 475.5v2.2M152.99 649.3v-2.2M152.99 475.5v2.2M173.05 649.3v-2.2M173.05 475.5v2.2M193.11 649.3v-2.2M193.11 475.5v2.2M213.17 649.3v-2.2M213.17 475.5v2.2M233.23 649.3v-2.2M233.23 475.5v2.2M40.5 605.85h2.2M261 605.85h-2.2M40.5 562.4h2.2M261 562.4h-2.2M40.5 518.95h2.2M261 518.95h-2.2" stroke="#6a6a6a" stroke-width="0.8" fill="none"/>
<text class="k" transform="translate(53.09 659.9) scale(0.86 1)" text-anchor="middle">1</text>
<text class="k" transform="translate(73.15 659.9) scale(0.86 1)" text-anchor="middle">5</text>
<text class="k" transform="translate(93.21 659.9) scale(0.86 1)" text-anchor="middle">9</text>
<text class="k" transform="translate(113.27 659.9) scale(0.86 1)" text-anchor="middle">13</text>
<text class="k" transform="translate(133.33 659.9) scale(0.86 1)" text-anchor="middle">17</text>
<text class="k" transform="translate(153.39 659.9) scale(0.86 1)" text-anchor="middle">21</text>
<text class="k" transform="translate(173.45 659.9) scale(0.86 1)" text-anchor="middle">25</text>
<text class="k" transform="translate(193.51 659.9) scale(0.86 1)" text-anchor="middle">29</text>
<text class="k" transform="translate(213.57 659.9) scale(0.86 1)" text-anchor="middle">33</text>
<text class="k" transform="translate(233.63 659.9) scale(0.86 1)" text-anchor="middle">37</text>
<text class="y" transform="translate(38.5 610.9) scale(0.93 1)" text-anchor="end">200</text>
<text class="y" transform="translate(38.5 567.45) scale(0.93 1)" text-anchor="end">400</text>
<text class="y" transform="translate(38.5 524) scale(0.93 1)" text-anchor="end">600</text>
<text class="b" transform="translate(141.75 672.2) scale(0.92 1)" text-anchor="middle">bin</text>
<text class="c" transform="translate(141.75 684.9) scale(1 1)" text-anchor="middle">(e)</text>
<text class="l" transform="translate(12.4 563.6) rotate(-90)" text-anchor="middle">No.of occurrences</text>
<text class="t" transform="translate(80.9 471.2) scale(1.01 1)">64QAM</text>
<text class="p" x="128.3" y="470.6" text-anchor="middle">（</text>
<text class="t" transform="translate(137.7 471.2) scale(1.01 1)">OSNR=38dB</text>
<text class="p" x="214.9" y="470.6" text-anchor="middle">）</text>
<path d="M171 476V648.8" stroke="#fa1818" stroke-width="1.7" stroke-dasharray="4.4 2.6" stroke-dashoffset="2" fill="none"/>
<path d="M191 476V648.8" stroke="#fa1818" stroke-width="1.7" stroke-dasharray="4.4 2.6" stroke-dashoffset="2" fill="none"/>
<path d="M175 519H187" stroke="#000" stroke-width="1.6" fill="none"/>
<path d="M172 519l5.2 -2.7v5.4zM190 519l-5.2 -2.7v5.4z" fill="#000"/>
<text class="i" x="156.8" y="527.2">A<tspan class="s" dy="0.5">5</tspan></text>
<text class="i" x="191.8" y="527.2">B<tspan class="s" dy="0.5">5</tspan></text>
<text class="i" x="174.3" y="515">N<tspan class="s" dy="0.5">5</tspan></text>
</g>
<g>
<rect x="334.18" y="647.7" width="5.01" height="0.8" fill="#4a4f96" opacity="0.75"/>
<rect x="344.21" y="645.5" width="5.01" height="3" fill="#6f78c8" stroke="#2c3163" stroke-width="0.8"/>
<rect x="349.23" y="635.7" width="5.01" height="12.8" fill="#6f78c8" stroke="#2c3163" stroke-width="0.8"/>
<rect x="354.24" y="630.2" width="5.01" height="18.3" fill="#6f78c8" stroke="#2c3163" stroke-width="0.8"/>
<rect x="359.26" y="642.2" width="5.01" height="6.3" fill="#6f78c8" stroke="#2c3163" stroke-width="0.8"/>
<rect x="364.27" y="645.8" width="5.01" height="2.7" fill="#6f78c8" stroke="#2c3163" stroke-width="0.8"/>
<rect x="369.29" y="634" width="5.01" height="14.5" fill="#6f78c8" stroke="#2c3163" stroke-width="0.8"/>
<rect x="374.3" y="608.9" width="5.01" height="39.6" fill="#6f78c8" stroke="#2c3163" stroke-width="0.8"/>
<rect x="379.32" y="602.7" width="5.01" height="45.8" fill="#6f78c8" stroke="#2c3163" stroke-width="0.8"/>
<rect x="384.33" y="625" width="5.01" height="23.5" fill="#6f78c8" stroke="#2c3163" stroke-width="0.8"/>
<rect x="389.35" y="633.2" width="5.01" height="15.3" fill="#6f78c8" stroke="#2c3163" stroke-width="0.8"/>
<rect x="394.36" y="627.2" width="5.01" height="21.3" fill="#6f78c8" stroke="#2c3163" stroke-width="0.8"/>
<rect x="399.38" y="622.3" width="5.01" height="26.2" fill="#6f78c8" stroke="#2c3163" stroke-width="0.8"/>
<rect x="404.39" y="612.2" width="5.01" height="36.3" fill="#6f78c8" stroke="#2c3163" stroke-width="0.8"/>
<rect x="409.41" y="608.1" width="5.01" height="40.4" fill="#6f78c8" stroke="#2c3163" stroke-width="0.8"/>
<rect x="414.42" y="605.4" width="5.01" height="43.1" fill="#6f78c8" stroke="#2c3163" stroke-width="0.8"/>
<rect x="419.44" y="617.7" width="5.01" height="30.8" fill="#6f78c8" stroke="#2c3163" stroke-width="0.8"/>
<rect x="424.45" y="627.2" width="5.01" height="21.3" fill="#6f78c8" stroke="#2c3163" stroke-width="0.8"/>
<rect x="429.47" y="586" width="5.01" height="62.5" fill="#6f78c8" stroke="#2c3163" stroke-width="0.8"/>
<rect x="434.48" y="542.1" width="5.01" height="106.4" fill="#6f78c8" stroke="#2c3163" stroke-width="0.8"/>
<rect x="439.5" y="559.3" width="5.01" height="89.2" fill="#6f78c8" stroke="#2c3163" stroke-width="0.8"/>
<rect x="444.51" y="606.2" width="5.01" height="42.3" fill="#6f78c8" stroke="#2c3163" stroke-width="0.8"/>
<rect x="449.53" y="616.3" width="5.01" height="32.2" fill="#6f78c8" stroke="#2c3163" stroke-width="0.8"/>
<rect x="454.54" y="596.7" width="5.01" height="51.8" fill="#6f78c8" stroke="#2c3163" stroke-width="0.8"/>
<rect x="459.56" y="568" width="5.01" height="80.5" fill="#6f78c8" stroke="#2c3163" stroke-width="0.8"/>
<rect x="464.57" y="556.3" width="5.01" height="92.2" fill="#6f78c8" stroke="#2c3163" stroke-width="0.8"/>
<rect x="469.59" y="574.6" width="5.01" height="73.9" fill="#6f78c8" stroke="#2c3163" stroke-width="0.8"/>
<rect x="474.6" y="584.1" width="5.01" height="64.4" fill="#6f78c8" stroke="#2c3163" stroke-width="0.8"/>
<rect x="479.62" y="589.6" width="5.01" height="58.9" fill="#6f78c8" stroke="#2c3163" stroke-width="0.8"/>
<rect x="484.63" y="597.2" width="5.01" height="51.3" fill="#6f78c8" stroke="#2c3163" stroke-width="0.8"/>
<rect x="489.65" y="576.2" width="5.01" height="72.3" fill="#6f78c8" stroke="#2c3163" stroke-width="0.8"/>
<rect x="494.66" y="532.6" width="5.01" height="115.9" fill="#6f78c8" stroke="#2c3163" stroke-width="0.8"/>
<rect x="499.68" y="562.3" width="5.01" height="86.2" fill="#6f78c8" stroke="#2c3163" stroke-width="0.8"/>
<rect x="504.69" y="573.5" width="5.01" height="75" fill="#6f78c8" stroke="#2c3163" stroke-width="0.8"/>
<rect x="509.71" y="599.4" width="5.01" height="49.1" fill="#6f78c8" stroke="#2c3163" stroke-width="0.8"/>
<rect x="514.72" y="610.3" width="5.01" height="38.2" fill="#6f78c8" stroke="#2c3163" stroke-width="0.8"/>
<rect x="519.74" y="601.6" width="5.01" height="46.9" fill="#6f78c8" stroke="#2c3163" stroke-width="0.8"/>
<rect x="524.75" y="616.3" width="5.01" height="32.2" fill="#6f78c8" stroke="#2c3163" stroke-width="0.8"/>
<rect x="529.77" y="646.3" width="5.01" height="2.2" fill="#6f78c8" stroke="#2c3163" stroke-width="0.8"/>
<path d="M324.5 474.5H545V648.5" fill="none" stroke="#989898" stroke-width="1.15"/>
<path d="M324.5 474.5V648.5H545" fill="none" stroke="#777777" stroke-width="1.25"/>
<path d="M336.69 648.5v-2.2M336.69 474.5v2.2M356.75 648.5v-2.2M356.75 474.5v2.2M376.81 648.5v-2.2M376.81 474.5v2.2M396.87 648.5v-2.2M396.87 474.5v2.2M416.93 648.5v-2.2M416.93 474.5v2.2M436.99 648.5v-2.2M436.99 474.5v2.2M457.05 648.5v-2.2M457.05 474.5v2.2M477.11 648.5v-2.2M477.11 474.5v2.2M497.17 648.5v-2.2M497.17 474.5v2.2M517.23 648.5v-2.2M517.23 474.5v2.2M324.5 605h2.2M545 605h-2.2M324.5 561.5h2.2M545 561.5h-2.2M324.5 518h2.2M545 518h-2.2" stroke="#6a6a6a" stroke-width="0.8" fill="none"/>
<text class="k" transform="translate(337.09 660.7) scale(0.86 1)" text-anchor="middle">1</text>
<text class="k" transform="translate(357.15 660.7) scale(0.86 1)" text-anchor="middle">5</text>
<text class="k" transform="translate(377.21 660.7) scale(0.86 1)" text-anchor="middle">9</text>
<text class="k" transform="translate(397.27 660.7) scale(0.86 1)" text-anchor="middle">13</text>
<text class="k" transform="translate(417.33 660.7) scale(0.86 1)" text-anchor="middle">17</text>
<text class="k" transform="translate(437.39 660.7) scale(0.86 1)" text-anchor="middle">21</text>
<text class="k" transform="translate(457.45 660.7) scale(0.86 1)" text-anchor="middle">25</text>
<text class="k" transform="translate(477.51 660.7) scale(0.86 1)" text-anchor="middle">29</text>
<text class="k" transform="translate(497.57 660.7) scale(0.86 1)" text-anchor="middle">33</text>
<text class="k" transform="translate(517.63 660.7) scale(0.86 1)" text-anchor="middle">37</text>
<text class="y" transform="translate(322.5 610.05) scale(0.93 1)" text-anchor="end">200</text>
<text class="y" transform="translate(322.5 566.55) scale(0.93 1)" text-anchor="end">400</text>
<text class="y" transform="translate(322.5 523.05) scale(0.93 1)" text-anchor="end">600</text>
<text class="b" transform="translate(425.75 672.3) scale(0.92 1)" text-anchor="middle">bin</text>
<text class="c" transform="translate(425.75 684.1) scale(1 1)" text-anchor="middle">(f)</text>
<text class="l" transform="translate(296.4 561.7) rotate(-90)" text-anchor="middle">No.of occurrences</text>
<text class="t" transform="translate(364.9 471.5) scale(1.01 1)">128QAM</text>
<text class="p" x="418.9" y="470.9" text-anchor="middle">（</text>
<text class="t" transform="translate(428.5 471.5) scale(1.01 1)">OSNR=40dB</text>
<text class="p" x="505.7" y="470.9" text-anchor="middle">）</text>
<path d="M501 475V648" stroke="#fa1818" stroke-width="1.7" stroke-dasharray="4.4 2.6" stroke-dashoffset="2" fill="none"/>
<path d="M536.2 475V648" stroke="#fa1818" stroke-width="1.7" stroke-dasharray="4.4 2.6" stroke-dashoffset="2" fill="none"/>
<path d="M505 516.6H532.2" stroke="#000" stroke-width="1.6" fill="none"/>
<path d="M502 516.6l5.2 -2.7v5.4zM535.2 516.6l-5.2 -2.7v5.4z" fill="#000"/>
<text class="i" x="487.6" y="527.4">A<tspan class="s" dy="0.5">6</tspan></text>
<text class="i" x="522.1" y="527.4">B<tspan class="s" dy="0.5">6</tspan></text>
<text class="i" x="512.5" y="514.6">N<tspan class="s" dy="0.5">6</tspan></text>
</g>
</svg>
</body></html>
